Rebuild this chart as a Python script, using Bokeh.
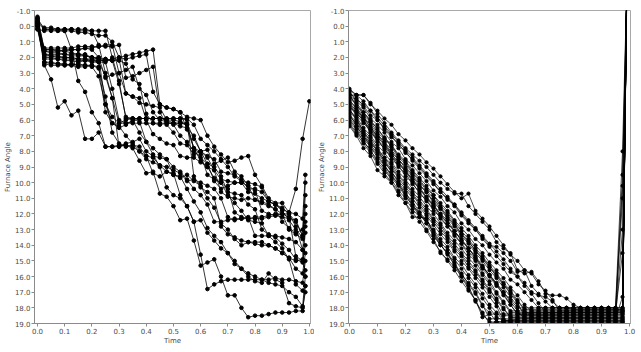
from bokeh.plotting import figure
from bokeh.layouts import row
from bokeh.models import Range1d, FixedTicker, NumeralTickFormatter
from bokeh.embed import file_html
from bokeh.resources import INLINE

TIME = [0.0, 0.025, 0.05, 0.075, 0.1, 0.125, 0.15, 0.175, 0.2, 0.225,
        0.25, 0.275, 0.3, 0.325, 0.35, 0.375, 0.4, 0.425, 0.45, 0.475,
        0.5, 0.525, 0.55, 0.575, 0.6, 0.625, 0.65, 0.675, 0.7, 0.725,
        0.75, 0.775, 0.8, 0.825, 0.85, 0.875, 0.9, 0.925, 0.95, 0.975]

X_TICKS = [0.0, 0.1, 0.2, 0.3, 0.4, 0.5, 0.6, 0.7, 0.8, 0.9, 1.0]
Y_TICKS = [-1, 0, 1, 2, 3, 4, 5, 6, 7, 8, 9, 10, 11, 12, 13, 14, 15, 16, 17, 18, 19]

# ---------------- left panel (40 samples + reset point) ----------------
L1 = [-0.5, 0.2, 0.2, 0.2, 0.2, 0.2, 0.3, 0.3, 0.3, 0.3,
      0.3, 2.0, 3.5, 5.9, 5.9, 5.9, 5.9, 5.9, 5.9, 5.9,
      5.9, 5.9, 5.9, 6.3, 7.2, 7.6, 8.0, 8.5, 9.0, 9.6,
      9.9, 10.0, 10.1, 10.3, 11.2, 11.4, 11.6, 12.0, 12.5, 13.4]
L2 = [-0.3, 0.1, 0.1, 0.2, 0.2, 0.2, 0.2, 0.2, 0.3, 1.2,
      3.0, 4.6, 6.2, 6.2, 6.2, 6.2, 6.2, 6.2, 6.2, 6.2,
      6.2, 6.2, 6.3, 7.8, 8.2, 9.5, 9.8, 10.0, 10.4, 11.9,
      12.2, 12.3, 12.3, 12.3, 12.2, 12.1, 12.0, 12.0, 12.8, 14.3]
L3 = [-0.2, 0.2, 0.2, 0.3, 0.3, 1.5, 3.5, 4.2, 5.5, 6.2,
      7.7, 7.7, 7.6, 7.6, 7.7, 8.0, 8.3, 9.4, 9.6, 9.3,
      9.4, 10.8, 11.5, 12.5, 12.4, 13.2, 13.7, 14.2, 14.5, 15.0,
      15.5, 15.8, 16.0, 16.2, 16.4, 16.5, 16.6, 17.0, 17.3, 17.9]
L4 = [0.0, 2.5, 3.4, 5.2, 4.8, 5.7, 5.4, 7.2, 7.2, 6.8,
      7.7, 7.7, 7.7, 7.6, 7.8, 8.6, 9.4, 9.3, 10.7, 10.9,
      11.5, 12.4, 12.3, 13.7, 15.3, 15.1, 14.9, 16.0, 17.2, 17.2,
      18.0, 18.6, 18.5, 18.5, 18.4, 18.3, 18.3, 18.3, 18.2, 18.2]
L5 = [-0.4, 2.3, 2.3, 2.4, 2.5, 2.4, 2.5, 2.5, 2.6, 3.2,
      5.0, 6.2, 6.5, 6.3, 6.0, 6.8, 7.4, 8.2, 9.0, 10.3,
      10.8, 11.0, 11.5, 12.5, 14.6, 16.8, 16.5, 16.3, 16.2, 16.2,
      16.2, 16.2, 16.2, 16.2, 16.2, 16.1, 16.2, 16.2, 16.3, 16.4]
L6 = [-0.2, 1.9, 1.9, 2.0, 2.0, 2.0, 2.1, 2.1, 2.2, 2.2,
      2.2, 2.1, 2.0, 1.9, 1.8, 1.7, 1.6, 1.5, 5.0, 5.2,
      5.3, 5.5, 6.6, 7.8, 8.0, 7.9, 8.8, 8.6, 8.4, 9.3,
      9.6, 10.2, 11.1, 11.2, 11.4, 11.7, 12.5, 12.9, 13.2, 13.0]
L7 = [0.1, 1.4, 1.4, 1.4, 1.4, 1.4, 1.3, 1.3, 1.3, 1.3,
      1.2, 1.2, 3.0, 4.3, 4.5, 4.9, 5.0, 5.1, 5.2, 6.0,
      6.2, 6.4, 6.5, 7.0, 8.0, 8.3, 8.5, 9.3, 9.4, 9.5,
      9.8, 10.4, 10.4, 10.6, 11.2, 11.4, 11.8, 12.4, 13.0, 13.5]
L8 = [-0.6, 1.5, 1.5, 1.5, 1.6, 1.5, 1.5, 1.4, 1.5, 2.0,
      3.3, 3.1, 3.0, 2.8, 2.6, 4.0, 4.4, 5.5, 6.0, 6.1,
      6.3, 7.0, 7.4, 8.0, 8.4, 8.8, 9.9, 10.4, 10.2, 10.0,
      10.0, 10.2, 10.5, 11.8, 12.0, 12.1, 12.2, 12.3, 12.4, 13.4]
L9 = [0.0, 1.8, 1.8, 1.8, 1.8, 1.9, 1.9, 1.9, 2.0, 2.0,
      5.0, 5.8, 6.2, 6.0, 5.9, 6.1, 7.4, 7.8, 8.2, 8.5,
      9.5, 9.7, 9.5, 9.9, 10.2, 11.0, 11.6, 12.6, 13.0, 13.6,
      14.0, 13.8, 13.8, 13.8, 14.0, 14.2, 14.5, 14.8, 15.0, 14.9]
L10 = [-0.3, 2.0, 2.0, 2.1, 2.1, 2.1, 2.2, 2.2, 2.2, 2.3,
       2.3, 4.0, 6.0, 6.2, 6.1, 5.9, 5.9, 5.9, 5.9, 6.0,
       6.0, 6.1, 6.3, 7.8, 8.6, 9.0, 9.2, 10.6, 10.9, 11.0,
       11.1, 11.0, 11.1, 11.3, 11.5, 11.7, 12.0, 12.2, 14.7, 15.0]
L11 = [-0.1, 2.3, 2.4, 2.4, 2.4, 2.5, 2.4, 2.5, 2.5, 2.6,
       5.5, 6.2, 6.4, 7.0, 7.5, 8.0, 8.5, 8.7, 8.9, 9.0,
       9.2, 9.4, 9.9, 9.8, 10.0, 10.2, 10.4, 11.0, 12.2, 12.4,
       12.3, 12.2, 13.4, 13.4, 13.4, 13.4, 13.5, 13.6, 13.8, 14.3]
L12 = [-0.2, 1.6, 1.6, 1.6, 1.5, 1.5, 1.5, 1.4, 1.4, 1.3,
       1.3, 1.3, 1.2, 3.3, 3.2, 3.0, 2.8, 2.6, 5.5, 6.3,
       6.8, 7.5, 7.6, 8.2, 8.0, 8.4, 9.2, 9.8, 9.9, 10.0,
       10.0, 10.6, 10.7, 11.0, 11.2, 11.4, 11.7, 11.9, 12.0, 12.3]
L13 = [0.2, 2.1, 2.1, 2.1, 2.2, 2.2, 2.3, 2.2, 2.3, 2.3,
       3.2, 4.6, 7.7, 7.5, 7.4, 7.2, 8.0, 8.3, 8.4, 8.5,
       9.0, 9.3, 9.8, 10.4, 10.8, 11.4, 12.5, 12.5, 12.4, 12.3,
       12.3, 12.3, 12.2, 12.2, 12.1, 12.0, 12.0, 13.0, 13.3, 13.6]
L14 = [-0.4, 1.8, 1.9, 1.9, 2.0, 2.0, 2.1, 2.1, 2.1, 2.2,
       2.2, 2.2, 3.7, 5.8, 5.9, 5.9, 5.9, 5.9, 5.9, 5.9,
       5.9, 5.9, 6.0, 9.6, 10.3, 10.6, 11.0, 12.8, 13.3, 13.5,
       13.7, 13.8, 13.9, 14.0, 14.0, 14.2, 14.5, 14.8, 15.5, 15.8]
L15 = [-0.1, 2.4, 2.5, 2.5, 2.5, 2.5, 2.6, 2.6, 2.5, 2.7,
       4.5, 6.8, 7.5, 7.7, 7.6, 7.7, 8.3, 8.4, 8.9, 9.3,
       9.5, 9.6, 10.4, 11.2, 11.9, 12.9, 13.4, 13.8, 14.5, 15.2,
       15.5, 16.0, 16.3, 16.4, 15.8, 16.2, 16.4, 17.7, 17.9, 18.0]
L16 = [0.2, 0.3, 0.3, 0.3, 0.3, 0.3, 0.4, 0.4, 0.5, 0.6,
       0.6, 1.0, 2.0, 2.1, 2.0, 1.9, 1.8, 4.2, 5.0, 5.2,
       5.3, 5.5, 5.8, 5.9, 6.0, 7.0, 7.7, 8.2, 8.7, 8.6,
       8.4, 8.3, 9.5, 10.2, 11.0, 11.3, 11.3, 11.9, 10.4, 7.2]
L17 = [-0.5, 1.5, 1.5, 1.6, 1.6, 1.7, 1.8, 1.8, 2.0, 2.1,
       2.1, 2.2, 2.1, 4.3, 4.5, 4.6, 6.0, 6.9, 7.2, 7.5,
       7.6, 8.3, 8.4, 8.4, 8.7, 9.0, 9.7, 10.0, 10.8, 11.3,
       11.8, 12.4, 12.5, 12.6, 13.4, 13.8, 14.2, 14.9, 16.5, 16.9]
L18 = [0.0, 1.6, 1.7, 1.7, 1.8, 1.8, 1.8, 1.9, 2.0, 2.1,
       2.1, 2.2, 2.2, 2.4, 3.4, 3.7, 5.6, 6.2, 6.3, 6.2,
       6.2, 6.2, 6.2, 7.2, 8.0, 8.8, 9.0, 9.6, 10.6, 10.7,
       10.8, 11.4, 11.7, 13.0, 13.3, 13.5, 13.9, 14.3, 14.9, 15.1]
LEFT_SERIES = [L1, L2, L3, L4, L5, L6, L7, L8, L9, L10, L11, L12, L13, L14, L15, L16, L17, L18]
LEFT_END_T = [0.985, 0.985, 0.985, 0.985, 0.985, 0.985, 0.985, 0.985, 0.985,
              0.985, 0.985, 0.985, 0.985, 0.985, 0.985, 1.0, 0.985, 0.985]
LEFT_END_Y = [10.8, 12.5, 16.0, 16.6, 15.0, 10.0, 11.5, 12.0, 13.2,
              14.0, 16.0, 9.5, 12.8, 14.5, 17.0, 4.8, 16.6, 15.6]

# ---------------- right panel (40 samples + reset point) ----------------
R1 = [5.0, 5.6, 6.0, 6.8, 7.2, 7.9, 8.3, 9.0, 9.4, 10.1,
      10.6, 11.2, 11.6, 12.3, 12.8, 13.4, 13.9, 14.6, 15.0, 15.8,
      16.3, 17.0, 17.6, 18.2, 18.2, 18.2, 18.2, 18.2, 18.2, 18.2,
      18.2, 18.2, 18.2, 18.2, 18.2, 18.2, 18.2, 18.2, 18.2, 18.2]
R2 = [4.4, 4.4, 4.4, 4.9, 5.6, 6.2, 6.8, 7.3, 7.8, 8.2,
      8.6, 9.0, 9.5, 10.0, 10.4, 10.7, 10.7, 11.5, 12.0, 12.5,
      13.0, 13.8, 14.2, 14.5, 15.6, 15.8, 15.7, 16.3, 17.1, 17.2,
      17.2, 17.4, 17.8, 18.0, 18.0, 18.0, 18.0, 18.0, 18.0, 18.0]
R3 = [6.4, 7.0, 7.8, 8.3, 9.2, 9.6, 10.0, 10.8, 11.3, 12.2,
      12.2, 13.0, 13.6, 14.5, 14.9, 15.4, 16.0, 16.6, 17.6, 18.3,
      19.0, 18.9, 18.9, 18.9, 18.9, 18.9, 18.9, 18.9, 18.9, 18.9,
      18.9, 18.9, 18.9, 18.9, 18.9, 18.9, 18.9, 18.9, 18.9, 18.9]
R4 = [4.7, 5.3, 5.9, 6.4, 7.1, 7.5, 8.2, 8.7, 9.2, 9.8,
      10.3, 10.9, 11.4, 12.0, 12.4, 13.1, 13.6, 14.2, 14.7, 15.3,
      15.9, 16.5, 17.2, 17.8, 18.4, 18.4, 18.4, 18.4, 18.4, 18.4,
      18.4, 18.4, 18.4, 18.4, 18.4, 18.4, 18.4, 18.4, 18.4, 11.0]
R5 = [5.5, 5.9, 6.7, 7.1, 7.8, 8.4, 8.8, 9.5, 10.0, 10.6,
      11.1, 11.7, 12.3, 12.7, 13.4, 13.9, 14.5, 15.0, 15.6, 16.2,
      16.8, 17.5, 18.1, 18.6, 18.6, 18.6, 18.6, 18.6, 18.6, 18.6,
      18.6, 18.6, 18.6, 18.6, 18.6, 18.6, 18.6, 18.6, 18.6, 18.6]
R6 = [4.2, 4.8, 5.2, 5.9, 6.3, 6.8, 7.4, 7.8, 8.5, 8.9,
      9.4, 9.9, 10.5, 10.9, 11.5, 11.9, 12.6, 13.0, 13.6, 14.0,
      14.6, 15.1, 15.5, 16.2, 16.5, 17.0, 17.5, 18.0, 18.0, 18.0,
      18.0, 18.0, 18.0, 18.0, 18.0, 18.0, 18.0, 18.0, 18.0, 8.0]
R7 = [6.0, 6.5, 7.2, 7.7, 8.4, 8.9, 9.6, 10.1, 10.7, 11.2,
      11.9, 12.4, 13.0, 13.6, 14.1, 14.8, 15.2, 15.9, 16.5, 17.1,
      17.8, 18.3, 18.8, 18.8, 18.8, 18.8, 18.8, 18.8, 18.8, 18.8,
      18.8, 18.8, 18.8, 18.8, 18.8, 18.8, 18.8, 18.8, 18.8, 18.8]
R8 = [4.9, 5.4, 5.8, 6.5, 7.0, 7.4, 8.1, 8.5, 9.1, 9.6,
      10.2, 10.6, 11.3, 11.7, 12.3, 12.8, 13.4, 13.9, 14.5, 15.0,
      15.6, 16.1, 16.7, 17.3, 17.9, 18.3, 18.3, 18.3, 18.3, 18.3,
      18.3, 18.3, 18.3, 18.3, 18.3, 18.3, 18.3, 18.3, 18.3, 14.5]
R9 = [5.3, 6.0, 6.7, 7.4, 8.0, 8.6, 9.3, 10.0, 10.6, 11.4,
      12.2, 12.3, 13.2, 13.9, 14.6, 15.2, 16.0, 16.8, 17.5, 18.4,
      18.9, 18.9, 18.9, 18.9, 18.9, 18.9, 18.9, 18.9, 18.9, 18.9,
      18.9, 18.9, 18.9, 18.9, 18.9, 18.9, 18.9, 18.9, 18.9, 18.9]
R10 = [4.5, 4.9, 5.5, 6.1, 6.5, 7.2, 7.6, 8.3, 8.7, 9.3,
       9.8, 10.4, 10.8, 11.5, 11.9, 12.5, 13.1, 13.6, 14.2, 14.7,
       15.3, 15.8, 16.4, 16.9, 17.5, 18.1, 18.1, 18.1, 18.1, 18.1,
       18.1, 18.1, 18.1, 18.1, 18.1, 18.1, 18.1, 18.1, 18.1, 18.1]
R11 = [5.8, 6.2, 6.9, 7.5, 7.9, 8.6, 9.1, 9.7, 10.3, 10.8,
       11.4, 12.0, 12.5, 13.1, 13.6, 14.3, 14.7, 15.4, 15.9, 16.5,
       17.0, 17.7, 18.5, 18.5, 18.5, 18.5, 18.5, 18.5, 18.5, 18.5,
       18.5, 18.5, 18.5, 18.5, 18.5, 18.5, 18.5, 18.5, 18.5, 9.5]
R12 = [4.1, 4.4, 4.4, 5.0, 5.4, 5.9, 6.3, 6.9, 7.3, 7.8,
       8.2, 8.7, 9.1, 9.6, 10.1, 10.6, 11.0, 10.7, 11.8, 12.3,
       12.8, 13.4, 14.0, 14.6, 15.0, 15.6, 15.8, 16.5, 16.9, 17.5,
       18.2, 18.2, 18.2, 18.2, 18.2, 18.2, 18.2, 18.2, 18.2, 18.2]
R13 = [6.2, 6.8, 7.3, 8.0, 8.5, 9.1, 9.7, 10.2, 10.9, 11.4,
       12.0, 12.6, 13.1, 13.8, 14.3, 14.9, 15.5, 16.1, 16.7, 17.4,
       18.0, 18.6, 18.8, 18.8, 18.7, 18.7, 18.7, 18.7, 18.7, 18.7,
       18.7, 18.7, 18.7, 18.7, 18.7, 18.7, 18.7, 18.7, 18.7, 17.3]
R14 = [5.1, 5.7, 6.2, 6.7, 7.4, 7.8, 8.5, 8.9, 9.6, 10.0,
       10.7, 11.1, 11.8, 12.2, 12.8, 13.3, 13.9, 14.4, 14.9, 15.5,
       16.0, 16.6, 17.1, 17.8, 18.4, 18.4, 18.4, 18.4, 18.4, 18.4,
       18.4, 18.4, 18.4, 18.4, 18.4, 18.4, 18.4, 18.4, 18.4, 18.4]
R15 = [4.6, 5.0, 5.7, 6.1, 6.8, 7.2, 7.7, 8.4, 8.8, 9.4,
       9.9, 10.5, 11.0, 11.6, 12.1, 12.6, 13.3, 13.7, 14.4, 14.8,
       15.4, 15.9, 16.5, 17.0, 17.6, 18.1, 18.6, 18.6, 18.6, 18.6,
       18.6, 18.6, 18.6, 18.6, 18.6, 18.6, 18.6, 18.6, 18.6, 13.0]
R16 = [5.6, 6.4, 7.0, 7.7, 8.2, 8.9, 9.5, 10.1, 10.8, 11.5,
       11.9, 12.6, 13.4, 14.0, 14.5, 15.3, 15.8, 16.5, 17.1, 17.9,
       18.3, 18.9, 18.9, 18.9, 18.9, 18.9, 18.9, 18.9, 18.9, 18.9,
       18.9, 18.9, 18.9, 18.9, 18.9, 18.9, 18.9, 18.9, 18.9, 18.9]
R17 = [4.3, 4.6, 5.1, 5.7, 6.0, 6.6, 7.1, 7.5, 8.1, 8.5,
       9.0, 9.5, 10.0, 10.6, 11.1, 11.4, 12.0, 12.5, 13.0, 13.5,
       14.0, 14.1, 14.5, 15.0, 15.7, 15.6, 16.6, 17.1, 17.6, 18.0,
       18.0, 18.0, 18.0, 18.0, 18.0, 18.0, 18.0, 18.0, 18.0, 18.0]
R18 = [5.4, 5.8, 6.5, 7.0, 7.6, 8.1, 8.7, 9.3, 9.8, 10.4,
       10.9, 11.5, 12.0, 12.6, 13.2, 13.7, 14.2, 14.8, 15.3, 15.9,
       16.5, 17.1, 17.7, 18.3, 18.3, 18.3, 18.3, 18.3, 18.3, 18.3,
       18.3, 18.3, 18.3, 18.3, 18.3, 18.3, 18.3, 18.3, 18.3, 18.3]
R19 = [6.1, 6.6, 7.4, 7.9, 8.7, 9.2, 9.8, 10.5, 11.0, 11.7,
       12.2, 12.3, 13.3, 14.0, 14.5, 15.1, 15.9, 16.4, 17.0, 17.8,
       18.7, 18.7, 18.7, 18.7, 18.7, 18.7, 18.7, 18.7, 18.7, 18.7,
       18.7, 18.7, 18.7, 18.7, 18.7, 18.7, 18.7, 18.7, 18.7, 18.7]
R20 = [4.8, 5.2, 5.8, 6.3, 6.9, 7.4, 7.9, 8.5, 9.0, 9.5,
       10.1, 10.6, 11.2, 11.6, 12.2, 12.7, 13.3, 13.8, 14.3, 14.9,
       15.4, 16.0, 16.5, 17.1, 17.7, 18.5, 18.5, 18.5, 18.5, 18.5,
       18.5, 18.5, 18.5, 18.5, 18.5, 18.5, 18.5, 18.5, 18.5, 18.5]
R21 = [5.2, 5.5, 6.1, 6.6, 7.3, 7.7, 8.3, 8.8, 9.3, 9.9,
       10.4, 11.0, 11.5, 12.1, 12.6, 13.1, 13.7, 14.2, 14.8, 15.4,
       15.9, 16.4, 17.0, 17.5, 18.0, 18.0, 18.0, 18.0, 18.0, 18.0,
       18.0, 18.0, 18.0, 18.0, 18.0, 18.0, 18.0, 18.0, 18.0, 10.2]
R22 = [5.9, 6.4, 7.0, 7.6, 8.1, 8.7, 9.3, 9.9, 10.4, 11.0,
       11.6, 12.1, 12.7, 13.3, 13.8, 14.4, 15.0, 15.5, 16.1, 16.7,
       17.3, 17.9, 18.8, 18.8, 18.8, 18.8, 18.8, 18.8, 18.8, 18.8,
       18.8, 18.8, 18.8, 18.8, 18.8, 18.8, 18.8, 18.8, 18.8, 18.8]
R23 = [4.4, 5.1, 5.5, 6.0, 6.6, 7.1, 7.6, 8.2, 8.6, 9.2,
       9.7, 10.2, 10.8, 11.3, 11.8, 12.4, 12.9, 13.4, 14.0, 14.5,
       15.1, 15.6, 16.1, 16.7, 17.2, 17.8, 18.2, 18.2, 18.2, 18.2,
       18.2, 18.2, 18.2, 18.2, 18.2, 18.2, 18.2, 18.2, 18.2, 18.2]
R24 = [5.7, 6.1, 6.8, 7.3, 7.9, 8.4, 9.0, 9.6, 10.1, 10.7,
       11.3, 11.8, 12.4, 12.9, 13.5, 14.1, 14.6, 15.2, 15.7, 16.3,
       16.9, 17.4, 18.0, 18.6, 18.6, 18.6, 18.6, 18.6, 18.6, 18.6,
       18.6, 18.6, 18.6, 18.6, 18.6, 18.6, 18.6, 18.6, 18.6, 18.6]
R25 = [4.5, 4.7, 5.0, 5.4, 6.0, 6.5, 7.0, 7.6, 8.0, 8.6,
       9.1, 9.6, 10.1, 10.6, 11.0, 11.5, 12.1, 12.6, 13.0, 13.6,
       14.1, 14.7, 15.2, 15.7, 16.0, 16.4, 17.0, 17.2, 17.3, 17.6,
       18.0, 18.0, 18.1, 18.1, 18.1, 18.1, 18.1, 18.1, 18.1, 18.1]
R26 = [6.3, 6.9, 7.5, 8.1, 8.8, 9.4, 10.0, 10.6, 11.3, 11.9,
       12.5, 13.1, 13.8, 14.4, 15.0, 15.6, 16.3, 16.9, 17.5, 18.6,
       18.4, 18.4, 18.4, 18.4, 18.4, 18.4, 18.4, 18.4, 18.4, 18.4,
       18.4, 18.4, 18.4, 18.4, 18.4, 18.4, 18.4, 18.4, 18.4, 18.4]
R27 = [5.0, 5.4, 6.0, 6.6, 7.1, 7.6, 8.2, 8.7, 9.3, 9.8,
       10.4, 10.9, 11.5, 12.0, 12.6, 13.1, 13.7, 14.2, 14.8, 15.4,
       15.9, 16.5, 17.0, 17.6, 18.2, 18.7, 18.7, 18.7, 18.7, 18.7,
       18.7, 18.7, 18.7, 18.7, 18.7, 18.7, 18.7, 18.7, 18.7, 18.7]
R28 = [4.0, 4.4, 4.8, 5.4, 5.8, 6.4, 6.9, 7.4, 7.9, 8.4,
       8.9, 9.4, 9.9, 10.4, 10.9, 11.4, 11.9, 12.4, 12.9, 13.4,
       13.9, 14.4, 14.9, 15.5, 16.0, 16.6, 17.1, 17.7, 18.3, 18.3,
       18.3, 18.3, 18.3, 18.3, 18.3, 18.3, 18.3, 18.3, 18.3, 18.3]
RIGHT_SERIES = [R1, R2, R3, R4, R5, R6, R7, R8, R9, R10, R11, R12, R13, R14,
                R15, R16, R17, R18, R19, R20, R21, R22, R23, R24, R25, R26, R27, R28]
RIGHT_END_T = 0.99
RIGHT_END_Y = [-2.0, -2.5, -2.0, -2.0, -1.8, -2.2, -2.0, -2.4, -1.6, -2.6, -2.0, -2.0, -2.3, -1.9,
               -2.1, -2.0, -2.8, -2.0, -1.7, -2.2, -2.0, -2.5, -2.0, -2.0, -2.0, -2.0, -2.0, -2.0]

FONT = "DejaVu Sans"


def make_panel(width, x_range, min_left, min_right):
    p = figure(width=width, height=352, x_range=x_range, y_range=Range1d(19, -1),
               min_border_left=min_left, min_border_right=min_right,
               min_border_top=10, min_border_bottom=29,
               output_backend="svg", toolbar_location=None)
    p.xgrid.visible = False
    p.ygrid.visible = False
    p.outline_line_color = "#a8a8a8"
    p.background_fill_color = "white"
    p.border_fill_color = "white"
    p.xaxis.ticker = FixedTicker(ticks=X_TICKS)
    p.yaxis.ticker = FixedTicker(ticks=Y_TICKS)
    p.xaxis.formatter = NumeralTickFormatter(format="0.0")
    p.yaxis.formatter = NumeralTickFormatter(format="0.0")
    p.xaxis.axis_label = "Time"
    p.yaxis.axis_label = "Furnace Angle"
    for ax in (p.xaxis[0], p.yaxis[0]):
        ax.axis_line_color = "#8a8a8a"
        ax.major_tick_line_color = "#8a8a8a"
        ax.major_tick_out = 3
        ax.major_tick_in = 0
        ax.minor_tick_line_color = None
        ax.major_label_text_font = FONT
        ax.major_label_text_font_size = "7px"
        ax.major_label_text_color = "#4a4a4a"
        ax.major_label_standoff = 1
        ax.axis_label_text_font = FONT
        ax.axis_label_text_font_size = "7px"
        ax.axis_label_text_font_style = "normal"
        ax.axis_label_text_color = "#4a4a4a"
        ax.axis_label_standoff = 0
    return p


left = make_panel(314, Range1d(-0.011, 1.004), 30, 4)
for s, et, ey in zip(LEFT_SERIES, LEFT_END_T, LEFT_END_Y):
    xs = TIME + [et]
    ys = s + [ey]
    left.line(xs, ys, line_color="black", line_width=0.8)
    left.scatter(xs, ys, marker="circle", size=3.6, fill_color="black", line_color="black")

right = make_panel(327, Range1d(-0.0035, 1.0035), 30, 11)
for s, ey in zip(RIGHT_SERIES, RIGHT_END_Y):
    xs = TIME + [RIGHT_END_T]
    ys = s + [ey]
    right.line(xs, ys, line_color="black", line_width=0.7)
    right.scatter(xs, ys, marker="circle", size=3.2, fill_color="black", line_color="black")

layout = row(left, right)
open("out.html", "w").write(file_html(layout, INLINE))
